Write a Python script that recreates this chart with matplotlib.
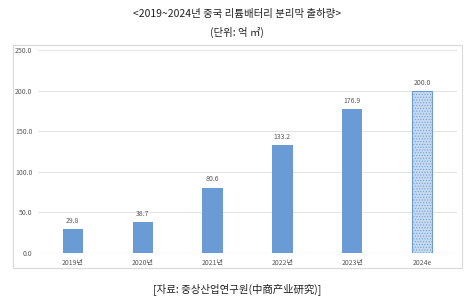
import matplotlib.pyplot as plt
from matplotlib.patches import Rectangle

plt.rcParams['font.family'] = ['Noto Sans CJK KR', 'DejaVu Sans']
plt.rcParams['hatch.linewidth'] = 0.4

years = ["2019년", "2020년", "2021년", "2022년", "2023년", "2024e"]
values = [29.8, 38.7, 80.6, 133.2, 176.9, 200.0]
yticks = [0, 50, 100, 150, 200, 250]

W, H = 474, 304
fig = plt.figure(figsize=(W / 100, H / 100), dpi=100)

# chart frame
fig.patches.append(Rectangle((13 / W, 1 - 268 / H), 449 / W, 223 / H,
                             transform=fig.transFigure, fill=False,
                             edgecolor="#d9d9d9", linewidth=0.8))

ax = fig.add_axes([38 / W, 1 - 253 / H, 419 / W, 203 / H])
x = list(range(len(years)))
colors = ["#6a9bd4"] * 5 + ["#c5d9f0"]
bars = ax.bar(x, values, width=0.29, color=colors, zorder=3)
bars[-1].set_hatch("......")
bars[-1].set_edgecolor("#6a9bd4")
bars[-1].set_linewidth(0.8)

for xi, v in zip(x, values):
    ax.text(xi, v + 5, f"{v:.1f}", ha="center", va="bottom",
            fontsize=5, color="#595959")

ax.set_xlim(-0.5, len(years) - 0.5)
ax.set_ylim(0, 250)
ax.set_yticks(yticks)
ax.set_yticklabels([f"{t:.1f}" for t in yticks])
ax.set_xticks(x)
ax.set_xticklabels(years)
ax.tick_params(axis="both", length=0, labelsize=5, labelcolor="#595959", pad=4)
ax.yaxis.grid(True, color="#e3e3e3", linewidth=0.7, zorder=0)
for s in ax.spines.values():
    s.set_visible(False)
ax.axhline(0, color="#d9d9d9", linewidth=0.8, zorder=2)

fig.text(0.5, 1 - 14 / H, "<2019~2024년 중국 리튬배터리 분리막 출하량>",
         ha="center", va="center", fontsize=7.5, color="#222222")
fig.text(0.5, 1 - 32 / H, "(단위: 억 ㎡)", ha="center", va="center",
         fontsize=7.5, color="#222222")
fig.text(0.5, 1 - 289 / H, "[자료: 중상산업연구원(中商产业研究)]",
         ha="center", va="center", fontsize=7.5, color="#222222")

fig.savefig("out.png", dpi=100)
